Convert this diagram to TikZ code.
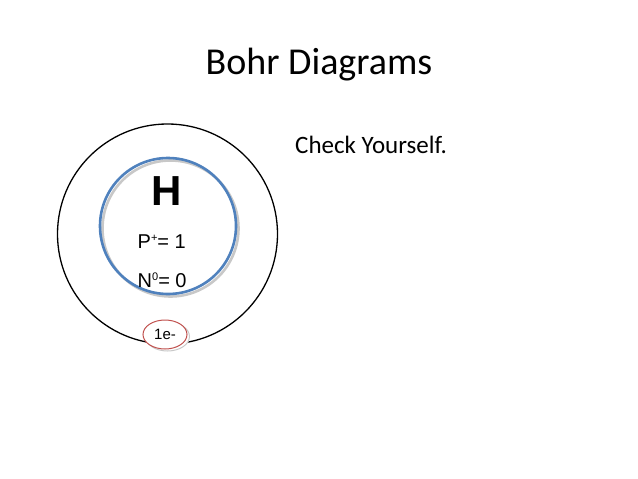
\documentclass[tikz,border=0pt]{standalone}
\usepackage{fontspec}
\setmainfont{Carlito}
\newfontfamily\arialfont{Liberation Sans}
\usetikzlibrary{shapes.geometric}
\definecolor{nucblue}{HTML}{4F81BD}
\definecolor{elecred}{HTML}{C0504D}
\definecolor{shade}{HTML}{C8C8C8}
\newcommand{\smallsup}[1]{\raisebox{6.5pt}{\fontsize{11}{11}\selectfont #1}}
\tikzset{
  shell/.style={draw, circle, inner sep=0, line width=1.3},
  nucleus/.style={draw=nucblue, circle, inner sep=0, line width=2.6},
  electron/.style={draw=elecred, fill=white, ellipse, inner sep=0, line width=1},
  label/.style={inner sep=0, font=\arialfont\fontsize{20}{24}\selectfont}
}

\begin{document}
\begin{tikzpicture}[x=1pt,y=-1pt]
\useasboundingbox (0,0) rectangle (638,479);
% heading
\node[inner sep=0, anchor=base, font=\fontsize{38}{46}\selectfont] (title) at (319,74) {Bohr Diagrams};
\node[inner sep=0, anchor=base west, font=\fontsize{25}{30}\selectfont] (check) at (295,153) {Check Yourself.};
% energy level
\node[shell, minimum size=220] (orbit) at (167.5,234) {};
% nucleus with its shadow
\node[nucleus, draw=shade, minimum size=136] (nucshadow) at (170.5,228.5) {};
\node[nucleus, minimum size=136] (nuc) at (168,226) {};
\node[inner sep=0, anchor=base, font=\arialfont\bfseries\fontsize{42}{48}\selectfont] (sym) at (166.5,205) {H};
\node[label, anchor=base west] (protons) at (137.5,248) {P\smallsup{+}= 1};
\node[label, anchor=base west] (neutrons) at (137.5,287) {N\smallsup{0}= 0};
% electron
\node[electron, draw=shade, minimum width=44, minimum height=29] (eshadow) at (167.5,336.5) {};
\node[electron, minimum width=44, minimum height=29, font=\arialfont\fontsize{15}{18}\selectfont] (e1) at (165,334.5) {1e-};
\end{tikzpicture}
\end{document}
